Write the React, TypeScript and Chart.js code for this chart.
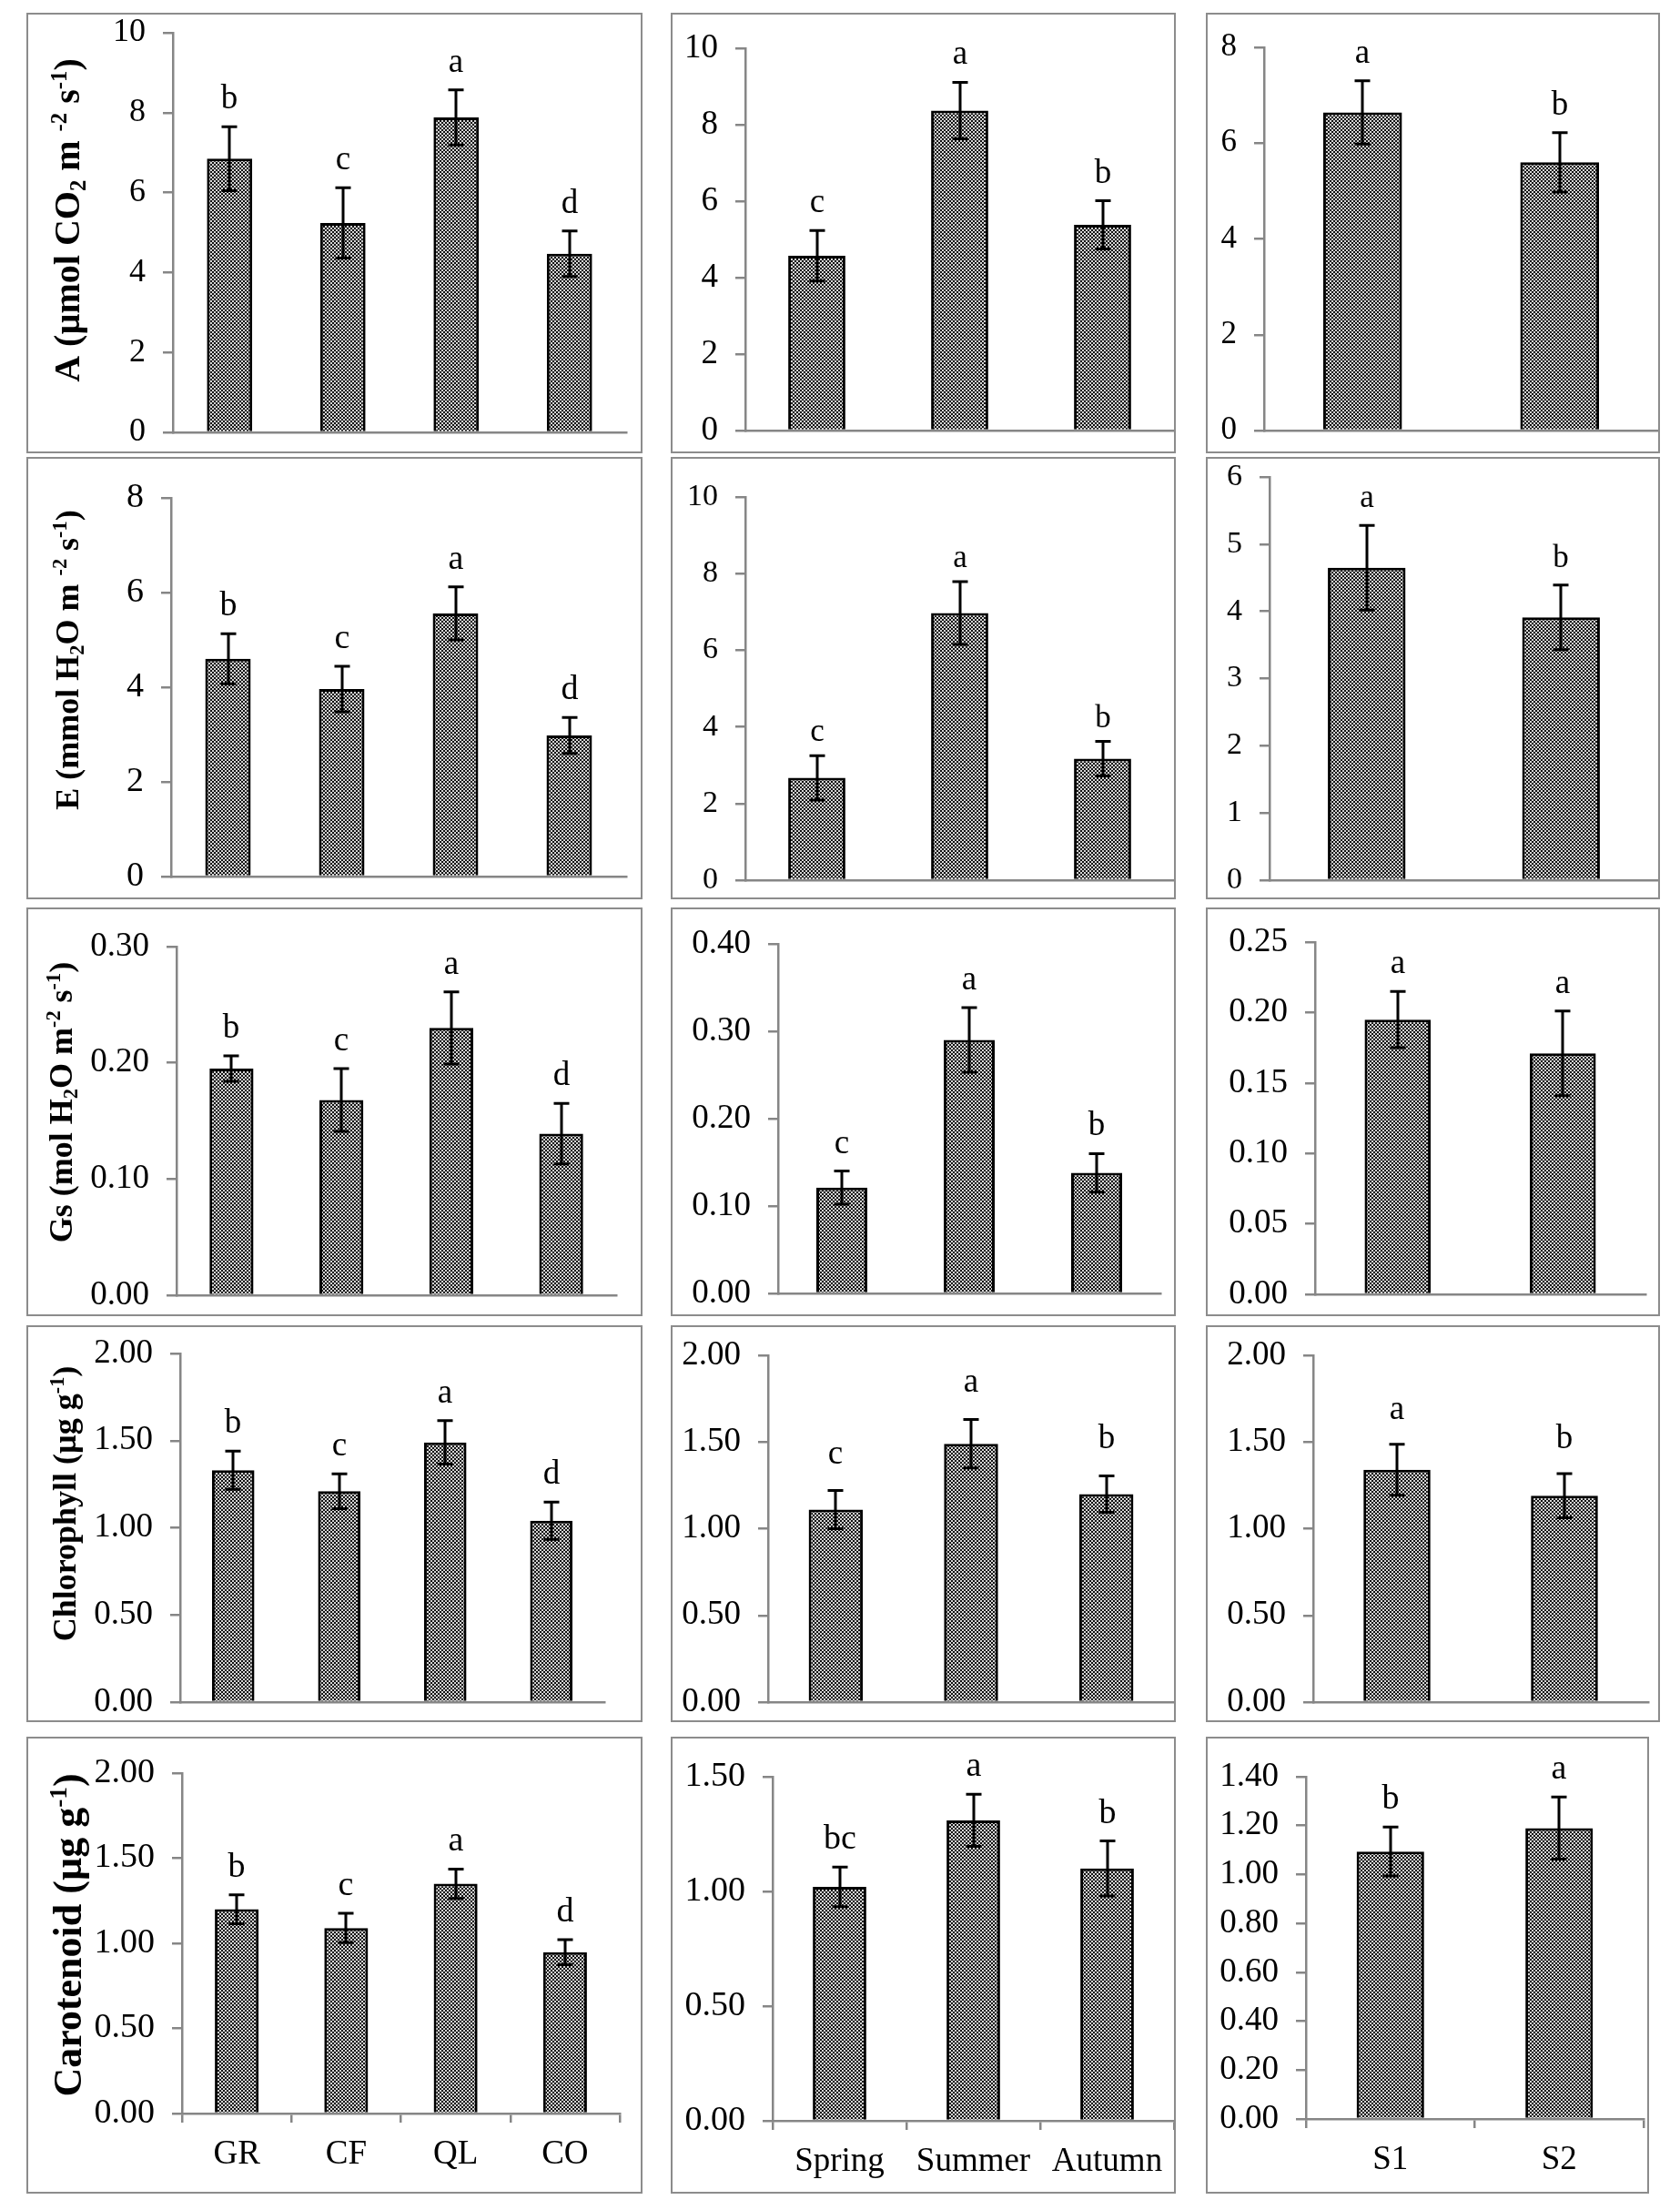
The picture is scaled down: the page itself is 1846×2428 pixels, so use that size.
import React, { useEffect, useRef } from 'react';
import { Chart, registerables } from 'chart.js';

Chart.register(...registerables);

const FONT = "'Liberation Serif', 'Times New Roman', Times, serif";
const AXIS_GRAY = '#868686';
const BOX_GRAY = '#8c8c8c';

// ---- categories ----
const SITES = ['GR', 'CF', 'QL', 'CO'];
const SEASONS = ['Spring', 'Summer', 'Autumn'];
const STANDS = ['S1', 'S2'];

// ---- net photosynthesis A ----
const A_SITE = [6.85, 5.24, 7.88, 4.47];
const A_SITE_SE = [0.8, 0.88, 0.69, 0.57];
const A_SITE_LET = ['b', 'c', 'a', 'd'];
const A_SEASON = [4.57, 8.37, 5.38];
const A_SEASON_SE = [0.66, 0.74, 0.63];
const A_SEASON_LET = ['c', 'a', 'b'];
const A_STAND = [6.64, 5.6];
const A_STAND_SE = [0.66, 0.62];
const A_STAND_LET = ['a', 'b'];

// ---- transpiration E ----
const E_SITE = [4.6, 3.96, 5.56, 2.98];
const E_SITE_SE = [0.53, 0.48, 0.56, 0.38];
const E_SITE_LET = ['b', 'c', 'a', 'd'];
const E_SEASON = [2.67, 6.97, 3.17];
const E_SEASON_SE = [0.58, 0.82, 0.45];
const E_SEASON_LET = ['c', 'a', 'b'];
const E_STAND = [4.65, 3.91];
const E_STAND_SE = [0.63, 0.48];
const E_STAND_LET = ['a', 'b'];

// ---- stomatal conductance Gs ----
const GS_SITE = [0.195, 0.168, 0.23, 0.139];
const GS_SITE_SE = [0.011, 0.027, 0.031, 0.026];
const GS_SITE_LET = ['b', 'c', 'a', 'd'];
const GS_SEASON = [0.121, 0.29, 0.138];
const GS_SEASON_SE = [0.019, 0.037, 0.022];
const GS_SEASON_LET = ['c', 'a', 'b'];
const GS_STAND = [0.195, 0.171];
const GS_STAND_SE = [0.02, 0.03];
const GS_STAND_LET = ['a', 'a'];

// ---- chlorophyll ----
const CHL_SITE = [1.33, 1.21, 1.49, 1.04];
const CHL_SITE_SE = [0.11, 0.1, 0.125, 0.107];
const CHL_SITE_LET = ['b', 'c', 'a', 'd'];
const CHL_SEASON = [1.11, 1.49, 1.2];
const CHL_SEASON_SE = [0.11, 0.14, 0.105];
const CHL_SEASON_LET = ['c', 'a', 'b'];
const CHL_STAND = [1.34, 1.19];
const CHL_STAND_SE = [0.147, 0.127];
const CHL_STAND_LET = ['a', 'b'];

// ---- carotenoid ----
const CAR_SITE = [1.2, 1.09, 1.35, 0.948];
const CAR_SITE_SE = [0.085, 0.086, 0.086, 0.073];
const CAR_SITE_LET = ['b', 'c', 'a', 'd'];
const CAR_SEASON = [1.02, 1.31, 1.1];
const CAR_SEASON_SE = [0.086, 0.114, 0.12];
const CAR_SEASON_LET = ['bc', 'a', 'b'];
const CAR_STAND = [1.094, 1.19];
const CAR_STAND_SE = [0.1, 0.127];
const CAR_STAND_LET = ['b', 'a'];

// ---- y-axis ranges per panel (row-major) ----
const Y_MAX = [10, 10, 8, 8, 10, 6, 0.3, 0.4, 0.25, 2, 2, 2, 2, 1.5, 1.4];
const Y_STEP = [2, 2, 2, 2, 2, 1, 0.1, 0.1, 0.05, 0.5, 0.5, 0.5, 0.5, 0.5, 0.2];
const Y_DEC = [0, 0, 0, 0, 0, 0, 2, 2, 2, 2, 2, 2, 2, 2, 2];

// ---- y-axis titles (text, 0 normal / 1 subscript / 2 superscript) ----
type Seg = [string, number];
const TITLE_A: Seg[] = [['A (µmol CO', 0], ['2', 1], [' m ', 0], ['-2', 2], [' s', 0], ['-1', 2], [')', 0]];
const TITLE_E: Seg[] = [['E (mmol H', 0], ['2', 1], ['O m ', 0], ['-2', 2], [' s', 0], ['-1', 2], [')', 0]];
const TITLE_GS: Seg[] = [['Gs (mol H', 0], ['2', 1], ['O m', 0], ['-2', 2], [' s', 0], ['-1', 2], [')', 0]];
const TITLE_CHL: Seg[] = [['Chlorophyll (µg g', 0], ['-1', 2], [')', 0]];
const TITLE_CAR: Seg[] = [['Carotenoid (µg g', 0], ['-1', 2], [')', 0]];

const SERIES = [
  { labels: SITES, values: A_SITE, errors: A_SITE_SE, letters: A_SITE_LET, title: TITLE_A },
  { labels: SEASONS, values: A_SEASON, errors: A_SEASON_SE, letters: A_SEASON_LET },
  { labels: STANDS, values: A_STAND, errors: A_STAND_SE, letters: A_STAND_LET },
  { labels: SITES, values: E_SITE, errors: E_SITE_SE, letters: E_SITE_LET, title: TITLE_E },
  { labels: SEASONS, values: E_SEASON, errors: E_SEASON_SE, letters: E_SEASON_LET },
  { labels: STANDS, values: E_STAND, errors: E_STAND_SE, letters: E_STAND_LET },
  { labels: SITES, values: GS_SITE, errors: GS_SITE_SE, letters: GS_SITE_LET, title: TITLE_GS },
  { labels: SEASONS, values: GS_SEASON, errors: GS_SEASON_SE, letters: GS_SEASON_LET },
  { labels: STANDS, values: GS_STAND, errors: GS_STAND_SE, letters: GS_STAND_LET },
  { labels: SITES, values: CHL_SITE, errors: CHL_SITE_SE, letters: CHL_SITE_LET, title: TITLE_CHL },
  { labels: SEASONS, values: CHL_SEASON, errors: CHL_SEASON_SE, letters: CHL_SEASON_LET },
  { labels: STANDS, values: CHL_STAND, errors: CHL_STAND_SE, letters: CHL_STAND_LET },
  { labels: SITES, values: CAR_SITE, errors: CAR_SITE_SE, letters: CAR_SITE_LET, title: TITLE_CAR },
  { labels: SEASONS, values: CAR_SEASON, errors: CAR_SEASON_SE, letters: CAR_SEASON_LET },
  { labels: STANDS, values: CAR_STAND, errors: CAR_STAND_SE, letters: CAR_STAND_LET },
];

// ---- page geometry (px) ----
const ROW_BOX = [[14, 484], [502, 486], [997, 449], [1456, 436], [1908, 502]];
const COL_BOX = [[29, 677], [737, 555], [1325, 499]];
// axis frame per panel: [left x, top y, zero y, right x]
const AXIS = [
  [190, 36, 475, 688], [819, 53, 473, 1290], [1389, 52, 473, 1822],
  [188, 547, 963, 688], [819, 546, 967, 1290], [1395, 524, 967, 1822],
  [194, 1040, 1423, 677], [855, 1037, 1421, 1275], [1445, 1035, 1422, 1808],
  [198, 1487, 1870, 664], [844, 1489, 1870, 1290], [1443, 1489, 1870, 1811],
  [200, 1948, 2322, 681], [849, 1952, 2330, 1290], [1435, 1952, 2328, 1806],
];
const TICK_FONT = [36, 37, 35, 38, 34, 34, 37, 37, 37, 37, 37, 37, 38, 38, 37];
const LETTER_FONT = [37, 37, 37, 38, 35, 35, 37, 37, 37, 37, 37, 37, 38, 38, 38];
const LETTER_GAP = [20, 20, 20, 20, 16, 20, 20, 20, 20, 20, 30, 28, 20, 20, 20];
const X_FONT = 37;
const TITLE_FONT = [40, 36, 36, 36, 44];
const TITLE_POS = [[74, 242], [74, 725], [67, 1211], [71, 1652], [74, 2126]];
const BORDER = 2;

function makePattern(): CanvasPattern | string {
  const c = document.createElement('canvas');
  c.width = 4;
  c.height = 4;
  const g = c.getContext('2d');
  if (!g) return '#666';
  g.fillStyle = '#d4d4d4';
  g.fillRect(0, 0, 4, 4);
  g.fillStyle = '#101010';
  g.fillRect(0, 0, 2, 2);
  g.fillRect(2, 2, 2, 2);
  const p = g.createPattern(c, 'repeat');
  return p || '#666';
}

function drawRichVertical(ctx: CanvasRenderingContext2D, segs: Seg[], cx: number, cy: number, size: number) {
  const small = size * 0.62;
  const fontFor = (k: number) => `bold ${k === 0 ? size : small}px ${FONT}`;
  let total = 0;
  const widths = segs.map(([t, k]) => {
    ctx.font = fontFor(k);
    const w = ctx.measureText(t).width;
    total += w;
    return w;
  });
  ctx.save();
  ctx.translate(cx, cy);
  ctx.rotate(-Math.PI / 2);
  ctx.fillStyle = '#000';
  ctx.textAlign = 'left';
  ctx.textBaseline = 'alphabetic';
  const base = size * 0.33;
  let x = -total / 2;
  segs.forEach(([t, k], i) => {
    ctx.font = fontFor(k);
    const off = k === 2 ? -size * 0.36 : k === 1 ? size * 0.16 : 0;
    ctx.fillText(t, x, base + off);
    x += widths[i];
  });
  ctx.restore();
}

function Panel({ idx }: { idx: number }) {
  const ref = useRef<HTMLCanvasElement>(null);
  const row = Math.floor(idx / 3);
  const col = idx % 3;
  const s = SERIES[idx];
  const [by, bh] = ROW_BOX[row];
  let [bx, bw] = COL_BOX[col];
  if (row === 4 && col === 2) bw = 487;
  const cw = bw - BORDER * 2;
  const ch = bh - BORDER * 2;
  const ox = bx + BORDER;
  const oy = by + BORDER;
  const [axL, axT, axB, axR] = AXIS[idx];
  const showX = row === 4;

  useEffect(() => {
    const canvas = ref.current;
    if (!canvas) return;
    const pattern = makePattern();
    const yLeft = axL - ox;
    const yTop = axT - oy;
    const yZero = axB - oy;
    const xRight = axR - ox;
    const dec = Y_DEC[idx];

    const marks = {
      id: 'marks',
      afterDatasetsDraw(chart: any) {
        const ctx = chart.ctx as CanvasRenderingContext2D;
        const meta = chart.getDatasetMeta(0);
        const ys = chart.scales.y;
        ctx.save();
        ctx.strokeStyle = '#000';
        ctx.lineWidth = 3;
        ctx.fillStyle = '#000';
        ctx.font = `${LETTER_FONT[idx]}px ${FONT}`;
        ctx.textAlign = 'center';
        ctx.textBaseline = 'alphabetic';
        meta.data.forEach((bar: any, i: number) => {
          const x = Math.round(bar.x);
          const hi = ys.getPixelForValue(s.values[i] + s.errors[i]);
          const lo = ys.getPixelForValue(s.values[i] - s.errors[i]);
          ctx.beginPath();
          ctx.moveTo(x, hi);
          ctx.lineTo(x, lo);
          ctx.moveTo(x - 8.5, hi);
          ctx.lineTo(x + 8.5, hi);
          ctx.moveTo(x - 8.5, lo);
          ctx.lineTo(x + 8.5, lo);
          ctx.stroke();
          ctx.fillText(s.letters[i], x, hi - LETTER_GAP[idx]);
        });
        ctx.restore();
      },
      afterDraw(chart: any) {
        if (!s.title) return;
        const [tx, ty] = TITLE_POS[row];
        drawRichVertical(chart.ctx, s.title, tx - ox, ty - oy, TITLE_FONT[row]);
      },
    };

    const chart = new Chart(canvas, {
      type: 'bar',
      data: {
        labels: s.labels,
        datasets: [
          {
            data: s.values,
            backgroundColor: pattern as any,
            borderColor: '#000',
            borderWidth: 3,
            barPercentage: 0.4,
            categoryPercentage: 1,
          },
        ],
      },
      options: {
        animation: false,
        responsive: false,
        maintainAspectRatio: false,
        devicePixelRatio: 1,
        layout: { padding: { left: 0, top: yTop, right: cw - xRight, bottom: 0 } },
        plugins: { legend: { display: false }, tooltip: { enabled: false }, title: { display: false } },
        scales: {
          x: {
            type: 'category',
            offset: true,
            afterFit: (sc: any) => {
              sc.height = ch - yZero;
              sc.paddingLeft = 0;
              sc.paddingRight = 0;
            },
            grid: {
              display: true,
              offset: true,
              drawOnChartArea: false,
              drawTicks: showX,
              tickLength: 10,
              color: AXIS_GRAY,
              lineWidth: 2.5,
            },
            border: { display: true, color: AXIS_GRAY, width: 2.5 },
            ticks: {
              display: showX,
              color: '#000',
              font: { family: FONT, size: X_FONT, lineHeight: 1 },
              padding: 17,
              maxRotation: 0,
              autoSkip: false,
            },
          },
          y: {
            type: 'linear',
            min: 0,
            max: Y_MAX[idx],
            afterFit: (sc: any) => {
              sc.width = yLeft;
              sc.paddingTop = 0;
              sc.paddingBottom = 0;
            },
            grid: {
              display: true,
              drawOnChartArea: false,
              drawTicks: true,
              tickLength: 11,
              color: AXIS_GRAY,
              lineWidth: 2.5,
            },
            border: { display: true, color: AXIS_GRAY, width: 2.5 },
            ticks: {
              stepSize: Y_STEP[idx],
              color: '#000',
              font: { family: FONT, size: TICK_FONT[idx], lineHeight: 1 },
              padding: 19,
              callback: (v: any) => Number(v).toFixed(dec),
            },
          },
        },
      },
      plugins: [marks as any],
    });
    return () => chart.destroy();
  }, [idx]);

  return (
    <div
      style={{
        position: 'absolute',
        left: bx,
        top: by,
        width: cw,
        height: ch,
        border: `${BORDER}px solid ${BOX_GRAY}`,
        background: '#fff',
      }}
    >
      <canvas ref={ref} width={cw} height={ch} style={{ display: 'block', width: cw, height: ch }} />
    </div>
  );
}

export default function App() {
  return (
    <div style={{ position: 'absolute', left: 0, top: 0, width: 1846, height: 2428, background: '#fff' }}>
      {SERIES.map((_, i) => (
        <Panel key={i} idx={i} />
      ))}
    </div>
  );
}
